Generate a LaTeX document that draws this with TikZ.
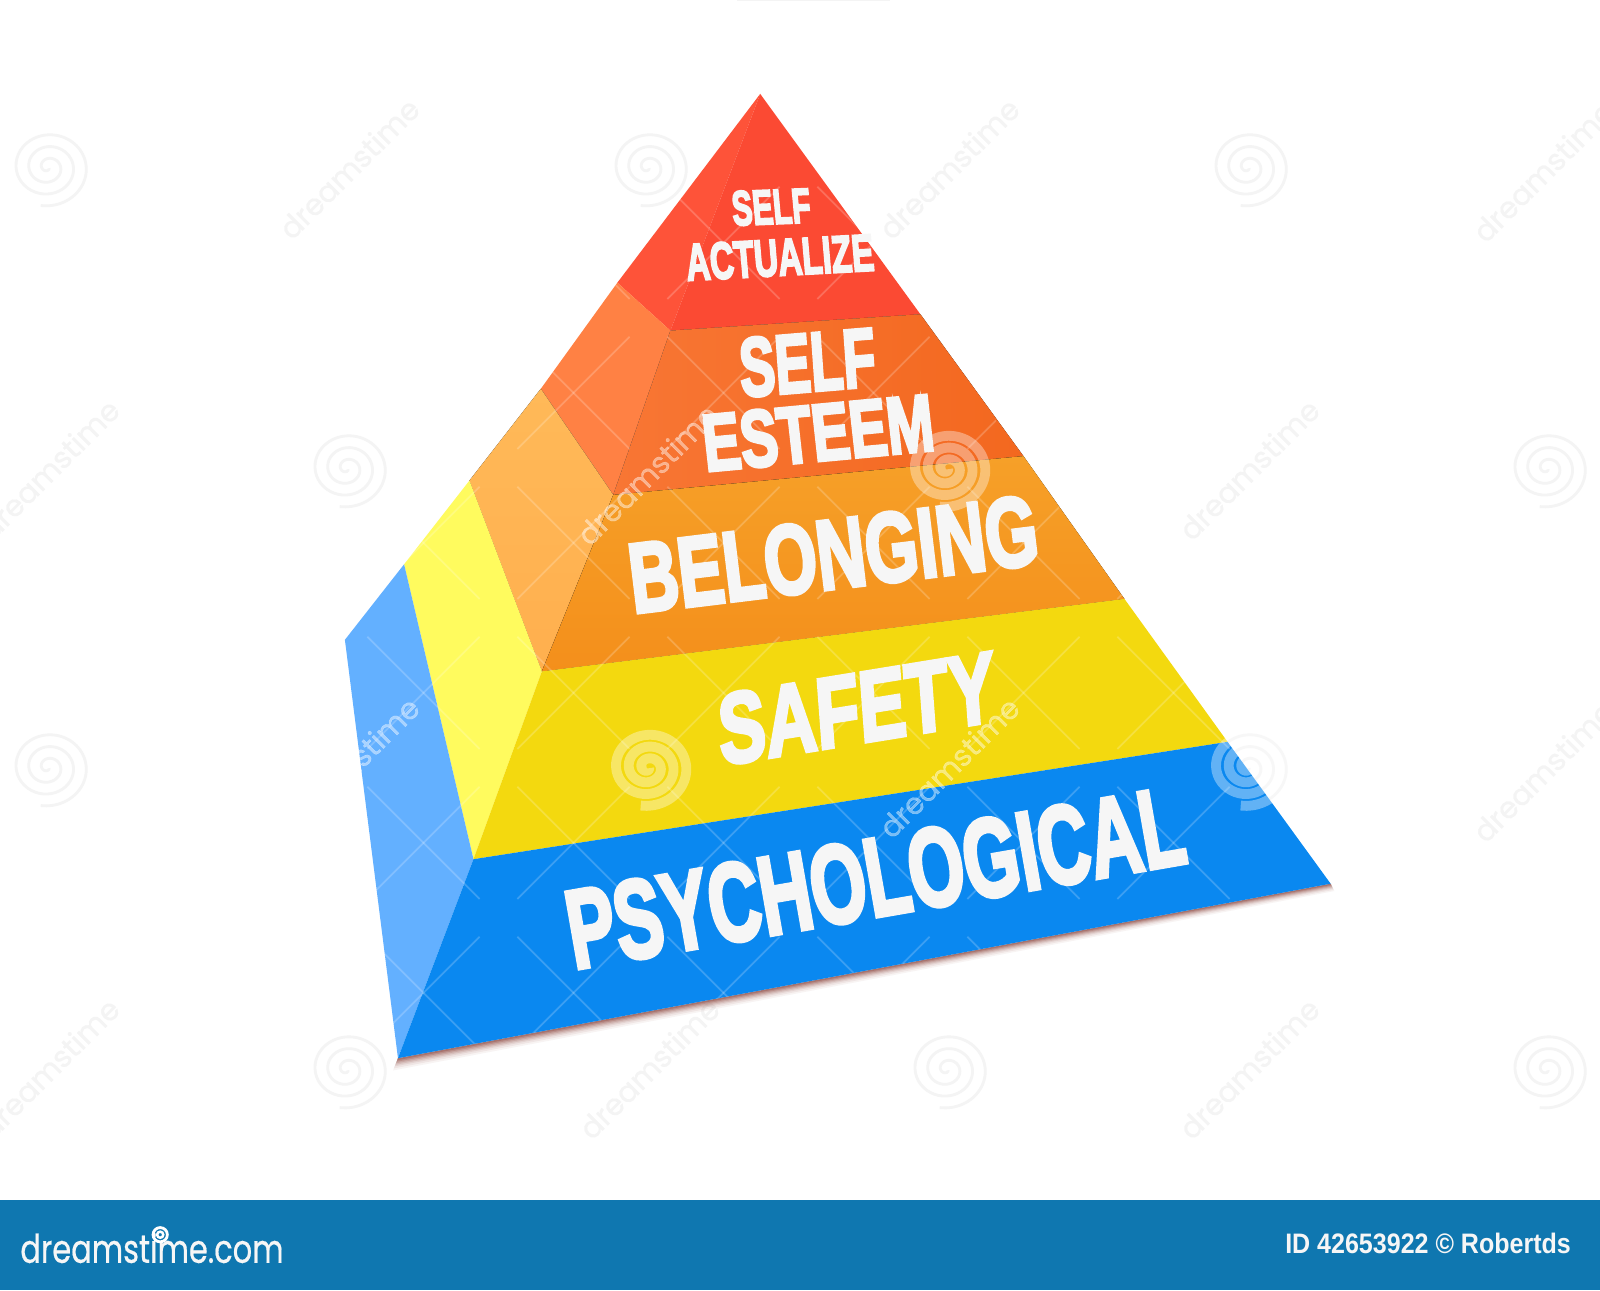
\documentclass[tikz,border=0pt]{standalone}
\usepackage{fontspec}
\usetikzlibrary{calc}
\setmainfont{Liberation Sans}
\newfontfamily\heavybase{Liberation Sans}[BoldFeatures={FakeBold=4.2}]
\newcommand\heavyfont{\fontsize{20}{24}\heavybase\bfseries}
\newcommand\footidfont{\fontsize{20}{24}\selectfont\bfseries}
\newfontfamily\wmbase{Poppins}[FakeBold=0.6]
\newcommand\wmfont{\fontsize{20}{24}\wmbase}
\definecolor{lbltext}{HTML}{F6F6F6}
\definecolor{redfront}{HTML}{FB4A33}
\definecolor{redside}{HTML}{FE5339}
\definecolor{orafrontA}{HTML}{F87634}
\definecolor{orafrontB}{HTML}{F3681F}
\definecolor{oraside}{HTML}{FF8144}
\definecolor{ambfrontA}{HTML}{F6A028}
\definecolor{ambfrontB}{HTML}{F48F1B}
\definecolor{ambsideA}{HTML}{FFB958}
\definecolor{ambsideB}{HTML}{FFAF4E}
\definecolor{yelfront}{HTML}{F3D90F}
\definecolor{yelside}{HTML}{FFFB5E}
\definecolor{blufront}{HTML}{0A88F0}
\definecolor{bluside}{HTML}{63B0FF}
\definecolor{footbar}{HTML}{0F77B0}
\definecolor{wmgrey}{HTML}{F4F4F4}
\definecolor{shadowred}{HTML}{7A2A20}
\newlength\wlw \newlength\wlh
\newsavebox\wboxa \newsavebox\wboxb
\def\pxk{0.29033}
% name, font, baseline start, baseline end, up vector, text
\def\warp#1#2(#3,#4)(#5,#6)(#7,#8)#9{%
  \pgfinterruptpicture
    \global\setbox\wboxa\hbox{#2#9}\global\setbox\wboxb\hbox{#2H}%
  \endpgfinterruptpicture
  \wlw=\wd\wboxa \wlh=\ht\wboxb
  \pgfmathsetmacro\ma{(#5-#3)*\pxk/\wlw}%
  \pgfmathsetmacro\mb{-(#6-#4)*\pxk/\wlw}%
  \pgfmathsetmacro\mc{(#7)*\pxk/\wlh}%
  \pgfmathsetmacro\md{-(#8)*\pxk/\wlh}%
  \pgfmathsetmacro\mtx{#3*\pxk}%
  \pgfmathsetmacro\mty{-#4*\pxk}%
  \begin{scope}[cm={\ma,\mb,\mc,\md,(\mtx pt,\mty pt)}]
    \node[warped] (#1) at (0,0) {#2#9};
  \end{scope}}
\tikzset{
  warped/.style={transform shape,anchor=base west,inner sep=0pt,outer sep=0pt,text=lbltext},
  wmtext/.style={rotate=45,inner sep=0pt,font=\fontsize{8.5}{10}\wmbase},
  spiralgrey/.style={draw=wmgrey,line width=0.8pt},
  spiralwhite/.style={draw=white,opacity=0.36,line width=2.8pt},
  latticeline/.style={draw=white,opacity=0.2,line width=0.5pt}
}
\newcommand\wmspiral[3]{%
  \begin{scope}[shift={(#1,#2)}]
    \draw[#3] plot[domain=40:1180,samples=140,smooth] ({\x/1180*41*cos(\x)},{\x/1180*38*sin(\x)});
  \end{scope}}
\begin{document}
\begin{tikzpicture}[x=0.010204cm,y=-0.010204cm]
\path[use as bounding box,fill=white] (0,0) rectangle (1568,1264.2);
% faint strip at the top edge
\fill[wmgrey] (722,0) rectangle (872,1.2);
% vertices
\coordinate (apex) at (745,92);
\coordinate (r1) at (902,308);\coordinate (r2) at (1003,447);\coordinate (r3) at (1102,587);\coordinate (r4) at (1203,727);\coordinate (r5) at (1304,866);
\coordinate (i1) at (657,324);\coordinate (i2) at (601,485);\coordinate (i3) at (531,658);\coordinate (i4) at (464,842);\coordinate (i5) at (390,1037);
\coordinate (l1) at (605,277);\coordinate (l2) at (530,381);\coordinate (l3) at (460,471);\coordinate (l4) at (396,553);\coordinate (l5) at (338,627);
% watermarks on the white ground
\foreach \px/\py in {47/164,635/164,1223/164,340/459,1516/459,47/752,1223/752,340/1048,928/1048,1516/1048}{\wmspiral{\px}{\py}{spiralgrey}}
\node[wmtext,text=wmgrey] (wm1) at (342,165) {dreamstime};
\node[wmtext,text=wmgrey] (wm2) at (930,165) {dreamstime};
\node[wmtext,text=wmgrey] (wm3) at (1512,168) {dreamstime};
\node[wmtext,text=wmgrey] (wm4) at (48,460) {dreamstime};
\node[wmtext,text=wmgrey] (wm5) at (1224,460) {dreamstime};
\node[wmtext,text=wmgrey] (wm6) at (1512,756) {dreamstime};
\node[wmtext,text=wmgrey] (wm7) at (48,1047) {dreamstime};
\node[wmtext,text=wmgrey] (wm8) at (636,1047) {dreamstime};
\node[wmtext,text=wmgrey] (wm9) at (1224,1047) {dreamstime};
% soft shadow beneath the base
\foreach \t/\op in {12/0.05,10/0.07,8/0.09,6.5/0.12,5/0.15,3.5/0.2,2/0.25}{
  \fill[shadowred,opacity=\op] ($(i5)+(-\t*0.4,\t)$) -- ($(r5)+(\t*0.3,\t*0.6)$) -- (r5) -- (i5) -- cycle;
}
% side faces
\fill[redside] (apex) -- (l1) -- (i1) -- cycle;
\fill[oraside] (l1) -- (l2) -- (i2) -- (i1) -- cycle;
\fill[top color=ambsideA,bottom color=ambsideB] (l2) -- (l3) -- (i3) -- (i2) -- cycle;
\fill[yelside] (l3) -- (l4) -- (i4) -- (i3) -- cycle;
\fill[bluside] (l4) -- (l5) -- (i5) -- (i4) -- cycle;
% front faces
\fill[redfront] (apex) -- (i1) -- (r1) -- cycle;
\fill[left color=orafrontA,right color=orafrontB] (i1) -- (i2) -- (r2) -- (r1) -- cycle;
\fill[top color=ambfrontA,bottom color=ambfrontB] (i2) -- (i3) -- (r3) -- (r2) -- cycle;
\fill[yelfront] (i3) -- (i4) -- (r4) -- (r3) -- cycle;
\fill[blufront] (i4) -- (i5) -- (r5) -- (r4) -- cycle;
% faint watermark lattice, visible on the pyramid only
\begin{scope}
  \clip (apex) -- (r5) -- (i5) -- (l5) -- cycle;
  \foreach \ci in {0,...,6}{\foreach \cj in {0,...,6}{
    \pgfmathsetmacro\cx{268+147*\ci}\pgfmathsetmacro\cy{973+147-147*\cj}
    \draw[latticeline] (\cx-55,\cy-55) -- (\cx+55,\cy+55);
    \draw[latticeline] (\cx-55,\cy+55) -- (\cx+55,\cy-55);
  }}
\end{scope}
% watermarks over the pyramid
\foreach \px/\py in {928/459,635/752,1223/752}{\wmspiral{\px}{\py}{spiralwhite}}
\node[wmtext,text=white,text opacity=0.45] (wm10) at (634,465) {dreamstime};
\node[wmtext,text=white,text opacity=0.45] (wm11) at (342,752) {dreamstime};
\node[wmtext,text=white,text opacity=0.45] (wm12) at (930,752) {dreamstime};
% labels
\warp{selfa}{\heavyfont}(719,221)(796,218)(-3,-33){SELF}
\warp{actual}{\heavyfont}(674,275)(858,265)(-3,-35){ACTUALIZE}
\warp{selfb}{\heavyfont}(727,389)(860,378)(-4,-56){SELF}
\warp{esteem}{\heavyfont}(692,462)(918,441)(-6,-54){ESTEEM}
\warp{belong}{\heavyfont}(621,601)(1021,552)(-8,-66){BELONGING}
\warp{safety}{\heavyfont}(707,750)(978,706)(-5,-67){SAFETY}
\warp{psych}{\heavyfont}(563,950)(1166,845)(-13,-74){PSYCHOLOGICAL}
% footer
\fill[footbar] (0,1176) rectangle (1568,1264.2);
\warp{brand}{\wmfont}(20,1238)(278,1238)(0,-27){dreamstime.com}
\warp{imgid}{\footidfont}(1260,1229)(1540,1229)(0,-19){ID 42653922 © Robertds}
\draw[white,line width=0.8pt] (157,1210) circle[radius=7];
\draw[white,line width=0.7pt] (157,1210) circle[radius=3];
\end{tikzpicture}
\end{document}
